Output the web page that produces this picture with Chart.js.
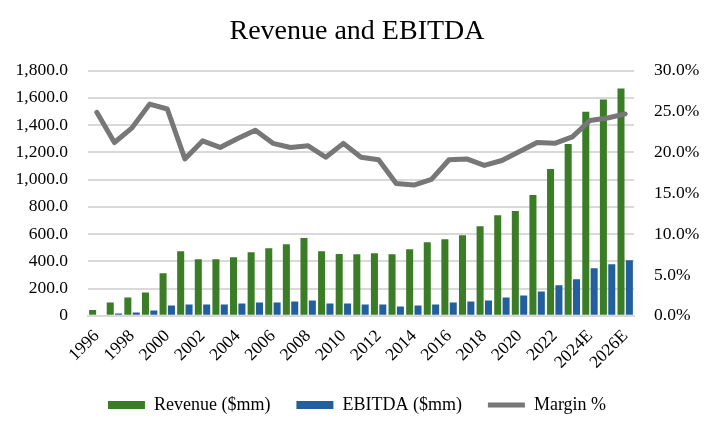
<!DOCTYPE html>
<html>
<head>
<meta charset="utf-8">
<script src="https://cdn.jsdelivr.net/npm/chart.js@4/dist/chart.umd.min.js"></script>
<style>
  html, body { margin: 0; padding: 0; background: #fff; }
  #wrap { width: 714px; height: 423px; }
</style>
</head>
<body>
<div id="wrap"><canvas id="chart"></canvas></div>
<script>
const years = ["1996", "1997", "1998", "1999", "2000", "2001", "2002", "2003", "2004", "2005",
  "2006", "2007", "2008", "2009", "2010", "2011", "2012", "2013", "2014", "2015",
  "2016", "2017", "2018", "2019", "2020", "2021", "2022", "2023", "2024E", "2025E", "2026E"];

const revenue = [42, 98, 135, 172, 312, 475, 416, 416, 430, 467,
  497, 526, 571, 475, 453, 452, 459, 452, 489, 540,
  563, 592, 658, 739, 769, 887, 1078, 1262, 1498, 1587, 1668];

const ebitda = [0, 17, 25, 39, 76, 83, 83, 83, 91, 98,
  98, 106, 113, 91, 91, 84, 84, 69, 76, 84,
  98, 106, 113, 135, 150, 179, 224, 268, 349, 378, 408];

const margin = [0.249, 0.212, 0.230, 0.259, 0.253, 0.192, 0.214, 0.206, 0.217, 0.227,
  0.211, 0.206, 0.208, 0.194, 0.211, 0.194, 0.191, 0.162, 0.160, 0.167,
  0.191, 0.192, 0.184, 0.190, 0.201, 0.212, 0.211, 0.219, 0.239, 0.242, 0.247];

const leftTicks = [0, 200, 400, 600, 800, 1000, 1200, 1400, 1600, 1800];
const rightTicks = [0, 0.05, 0.10, 0.15, 0.20, 0.25, 0.30];

const serif = "'Liberation Serif', 'Times New Roman', serif";
Chart.defaults.font.family = serif;
Chart.defaults.color = "#000";

new Chart(document.getElementById("chart"), {
  type: "bar",
  data: {
    labels: years,
    datasets: [
      {
        label: "Revenue ($mm)",
        data: revenue,
        backgroundColor: "#3b7d27",
        pointStyle: "rect",
        yAxisID: "y",
        order: 1,
        categoryPercentage: 0.95,
        barPercentage: 0.84,
      },
      {
        label: "EBITDA ($mm)",
        data: ebitda,
        backgroundColor: "#235f9c",
        pointStyle: "rect",
        yAxisID: "y",
        order: 2,
        categoryPercentage: 0.95,
        barPercentage: 0.84,
      },
      {
        type: "line",
        label: "Margin %",
        data: margin,
        borderColor: "#777777",
        backgroundColor: "#777777",
        borderWidth: 5,
        borderCapStyle: "round",
        borderJoinStyle: "round",
        pointStyle: "line",
        pointRadius: 0,
        tension: 0,
        yAxisID: "y1",
        order: 0,
      },
    ],
  },
  options: {
    responsive: true,
    maintainAspectRatio: false,
    animation: false,
    layout: { padding: { left: 0, right: 0, top: 15, bottom: -1 } },
    plugins: {
      title: {
        display: true,
        text: "Revenue and EBITDA",
        font: { size: 28, weight: "normal", family: serif },
        color: "#000",
        padding: { top: 0, bottom: 22 },
      },
      legend: {
        position: "bottom",
        labels: {
          usePointStyle: true,
          pointStyleWidth: 37,
          boxHeight: 8,
          padding: 26,
          font: { size: 18, family: serif },
          color: "#000",
          sort: (a, b) => a.datasetIndex - b.datasetIndex,
        },
      },
      tooltip: { enabled: false },
    },
    scales: {
      x: {
        offset: true,
        grid: { display: false },
        border: { display: true, color: "#d9d9d9", width: 2 },
        afterFit: function (axis) {
          axis.height -= 5;
        },
        ticks: {
          autoSkip: false,
          maxRotation: 45,
          minRotation: 45,
          font: { size: 17.5, family: serif },
          color: "#000",
          padding: 2,
          callback: function (v, i) {
            return i % 2 === 0 ? years[i] : "";
          },
        },
      },
      y: {
        position: "left",
        min: 0,
        max: 1800,
        afterBuildTicks: function (axis) {
          axis.ticks = leftTicks.map((v) => ({ value: v }));
        },
        afterFit: function (axis) {
          axis.width = 88;
        },
        grid: { color: "#d9d9d9", lineWidth: 2, drawTicks: false },
        border: { display: false },
        ticks: {
          font: { size: 17.5, family: serif },
          color: "#000",
          padding: 20,
          callback: function (v) {
            if (v === 0) return "0";
            return v.toLocaleString("en-US", { minimumFractionDigits: 1, maximumFractionDigits: 1 });
          },
        },
      },
      y1: {
        position: "right",
        min: 0,
        max: 0.3,
        afterBuildTicks: function (axis) {
          axis.ticks = rightTicks.map((v) => ({ value: v }));
        },
        afterFit: function (axis) {
          axis.width = 80;
        },
        grid: { display: false, drawTicks: false },
        border: { display: false },
        ticks: {
          font: { size: 17.5, family: serif },
          color: "#000",
          padding: 20,
          callback: function (v) {
            return (v * 100).toFixed(1) + "%";
          },
        },
      },
    },
  },
});
</script>
</body>
</html>
